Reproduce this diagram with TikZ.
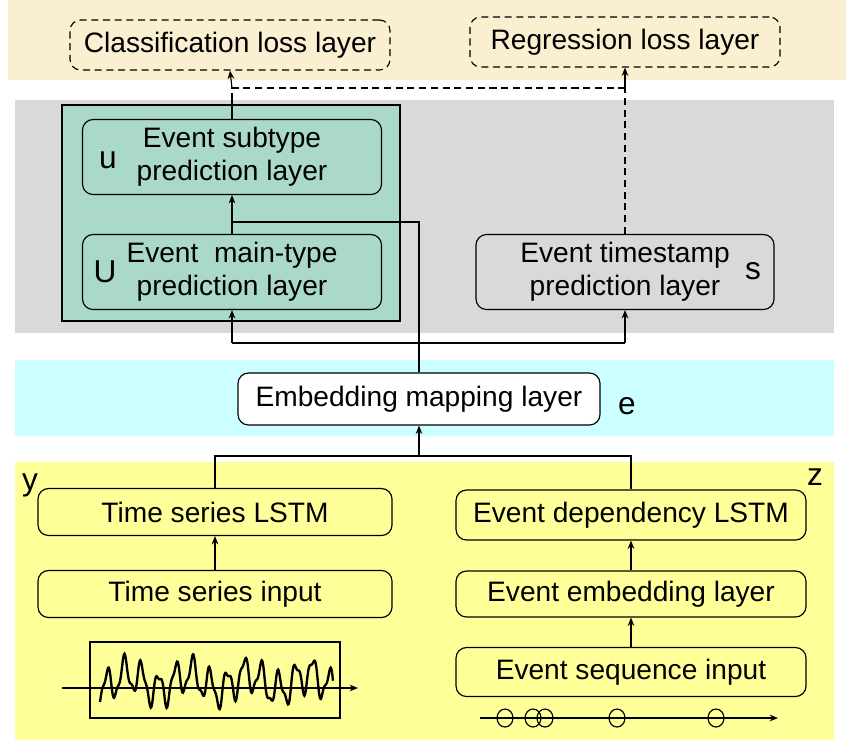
\documentclass[tikz,border=0pt]{standalone}
\usepackage{fontspec}
\setmainfont{Liberation Sans}
\usetikzlibrary{arrows.meta}
\definecolor{topband}{HTML}{FBEFD2}
\definecolor{grayband}{HTML}{D9D9D9}
\definecolor{cyanband}{HTML}{CCFFFF}
\definecolor{yellowband}{HTML}{FFFF99}
\definecolor{teal}{HTML}{AAD9C8}
\begin{document}
\begin{tikzpicture}[x=0.03cm,y=-0.03cm,
  font=\fontsize{24}{28}\selectfont,line width=1pt,
  box/.style={draw,rounded corners=9pt,align=center,inner sep=0pt},
  dsh/.style={dash pattern=on 6pt off 4pt},
  arr/.style={-{Stealth[length=2.5mm,width=2mm]}},
  lab/.style={inner sep=0pt,font=\fontsize{27}{30}\selectfont}]
  \useasboundingbox (0,0) rectangle (846,742);
  % bands
  \fill[topband] (8,0) rectangle (846,80);
  \fill[grayband] (15,100) rectangle (834,333);
  \fill[cyanband] (15,360) rectangle (834,436);
  \fill[yellowband] (15,462) rectangle (834,740);
  \filldraw[fill=teal,line width=1.3pt] (62,105) rectangle (400,321);

  % loss layers
  \node[box,dsh,minimum width=9.6cm,minimum height=1.5cm] (cls) at (230,45) {Classification loss layer};
  \node[box,dsh,minimum width=9.3cm,minimum height=1.5cm] (reg) at (625,42) {Regression loss layer};

  % prediction layers
  \node[box,fill=teal,minimum width=8.97cm,minimum height=2.25cm] (sub) at (232,157) {Event subtype\\prediction layer};
  \node[box,fill=teal,minimum width=8.97cm,minimum height=2.25cm] (main) at (232,272) {Event\ \ main-type\\prediction layer};
  \node[box,fill=grayband,minimum width=8.94cm,minimum height=2.25cm] (ts) at (625,272) {Event timestamp\\prediction layer};
  \node[lab] (lu) at (108,160) {u};
  \node[lab] (lU) at (105,272) {U};
  \node[lab] (ls) at (753,271) {s};

  % embedding
  \node[box,fill=white,minimum width=10.86cm,minimum height=1.56cm] (emb) at (419,399) {Embedding mapping layer};
  \node[lab] (le) at (627,406) {e};

  % lower layers
  \node[box,fill=yellowband,minimum width=10.62cm,minimum height=1.41cm] (tsl) at (215,512) {Time series LSTM};
  \node[box,fill=yellowband,minimum width=10.62cm,minimum height=1.41cm] (tsi) at (215,594) {Time series input};
  \node[box,fill=yellowband,minimum width=10.5cm,minimum height=1.5cm] (edl) at (631,515) {Event dependency LSTM};
  \node[box,fill=yellowband,minimum width=10.5cm,minimum height=1.38cm] (eel) at (631,594) {Event embedding layer};
  \node[box,fill=yellowband,minimum width=10.5cm,minimum height=1.47cm] (esi) at (631,672) {Event sequence input};
  \node[lab] (ly) at (30,485) {y};
  \node[lab] (lz) at (815,477) {z};

  % connectors lower part
  \coordinate (jl) at (215,456);
  \coordinate (jr) at (631,456);
  \coordinate (jm) at (419,456);
  \draw (tsl.north) -- (jl) -- (jr) -- (edl.north);
  \draw[arr] (jm) -- (emb.south);
  \draw[arr] (tsi.north) -- (tsl.south);
  \draw[arr] (esi.north) -- (eel.south);
  \draw[arr] (eel.north) -- (edl.south);

  % embedding to prediction layers
  \coordinate (hl) at (232,343);
  \coordinate (hr) at (625,343);
  \coordinate (up) at (419,222);
  \coordinate (upl) at (232,222);
  \draw[arr] (hl) -- (main.south);
  \draw[arr] (hr) -- (ts.south);
  \draw (hl) -- (hr);
  \draw (emb.north) -- (up) -- (upl);
  \draw (main.north) -- (upl);
  \draw[arr] (upl) -- (sub.south);

  % to loss layers
  \coordinate (dl) at (232,88);
  \coordinate (dr) at (625,88);
  \coordinate (tt) at (232,100);
  \draw (sub.north) -- (tt);
  \draw[dsh] (tt) -- (dl) -- (dr);
  \draw[dsh] (ts.north) -- (dr);
  \draw[arr] (dl) -- (cls.south);
  \draw[arr] (dr) -- (reg.south);

  % time series sketch
  \draw (90,642) rectangle (340,718);
  \draw[arr] (62,688) -- (358,688);
  \draw[line width=2pt] plot[domain=100:333,samples=400,smooth]
    (\x,{682 - 16*sin(\x*21) - 8*sin(\x*6+40) - 5*sin(\x*47)});

  % event sequence sketch
  \draw[arr] (480,718) -- (778,718);
  \foreach \p in {505,533,545,617,716}
    \draw (\p,718) ellipse (8 and 9);
\end{tikzpicture}
\end{document}
